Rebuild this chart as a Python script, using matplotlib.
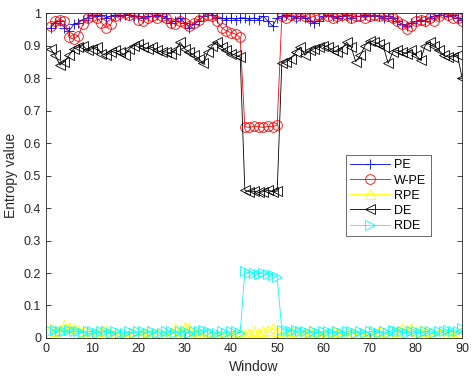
import matplotlib
matplotlib.use('Agg')
import matplotlib.pyplot as plt

plt.rcParams.update({"font.family": ["Liberation Sans", "DejaVu Sans"], "font.size": 9})

window = list(range(1, 91))

pe = [0.955, 0.97, 0.975, 0.955, 0.945, 0.965, 0.97, 0.98, 0.985, 0.995,
      0.99, 0.995, 0.985, 0.99, 0.995, 0.99, 0.995, 0.995, 0.99, 0.99,
      0.985, 0.99, 0.99, 0.995, 0.99, 0.985, 0.97, 0.975, 0.985, 0.97,
      0.955, 0.965, 0.975, 0.99, 1.0, 0.995, 0.985, 0.985, 0.98, 0.985,
      0.98, 0.985, 0.985, 0.98, 0.985, 0.98, 0.99, 0.975, 0.96, 0.985,
      0.99, 0.995, 0.99, 0.985, 0.99, 0.985, 0.975, 0.97, 0.975, 0.99,
      0.995, 0.99, 0.985, 0.99, 0.995, 0.985, 0.99, 0.99, 0.995, 0.99,
      0.995, 0.99, 0.985, 0.99, 0.985, 0.975, 0.965, 0.96, 0.97, 0.975,
      0.98, 0.975, 0.985, 0.99, 0.995, 1.0, 0.99, 0.995, 0.985, 0.98]

wpe = [0.96, 0.975, 0.98, 0.975, 0.925, 0.92, 0.93, 0.965, 0.985, 0.99,
       0.985, 0.97, 0.955, 0.965, 0.99, 1.0, 1.0, 0.995, 1.0, 0.98,
       0.975, 0.985, 0.99, 0.985, 0.99, 0.985, 0.97, 0.965, 0.975, 0.97,
       0.96, 0.97, 0.98, 0.99, 0.995, 0.99, 0.975, 0.955, 0.945, 0.94,
       0.935, 0.925, 0.65, 0.648, 0.652, 0.65, 0.648, 0.651, 0.65, 0.655,
       0.99, 0.985, 0.995, 0.99, 1.0, 0.99, 0.985, 0.99, 0.995, 1.0,
       0.99, 0.985, 0.99, 0.995, 0.995, 0.985, 0.99, 0.99, 0.985, 0.99,
       0.995, 0.99, 0.995, 0.99, 0.985, 0.975, 0.965, 0.95, 0.96, 0.975,
       0.98, 0.975, 0.985, 0.975, 0.99, 1.0, 0.995, 0.985, 0.985, 0.975]

rpe = [0.03, 0.02, 0.025, 0.04, 0.035, 0.03, 0.025, 0.02, 0.015, 0.01,
       0.015, 0.02, 0.025, 0.015, 0.01, 0.01, 0.005, 0.01, 0.015, 0.01,
       0.015, 0.02, 0.01, 0.015, 0.01, 0.005, 0.015, 0.03, 0.02, 0.035,
       0.03, 0.02, 0.015, 0.005, 0.003, 0.005, 0.01, 0.005, 0.008, 0.01,
       0.015, 0.02, 0.01, 0.015, 0.02, 0.015, 0.02, 0.025, 0.03, 0.02,
       0.005, 0.01, 0.02, 0.015, 0.01, 0.015, 0.02, 0.015, 0.01, 0.01,
       0.015, 0.02, 0.015, 0.01, 0.01, 0.015, 0.01, 0.015, 0.01, 0.015,
       0.01, 0.02, 0.015, 0.01, 0.015, 0.02, 0.03, 0.025, 0.03, 0.02,
       0.025, 0.02, 0.015, 0.01, 0.015, 0.01, 0.015, 0.01, 0.015, 0.015]

de = [0.89, 0.87, 0.84, 0.85, 0.87, 0.89, 0.895, 0.90, 0.885, 0.89,
      0.895, 0.875, 0.87, 0.88, 0.885, 0.88, 0.87, 0.89, 0.90, 0.905,
      0.895, 0.89, 0.895, 0.885, 0.88, 0.88, 0.875, 0.885, 0.91, 0.89,
      0.88, 0.87, 0.86, 0.845, 0.88, 0.90, 0.91, 0.895, 0.885, 0.875,
      0.87, 0.865, 0.455, 0.45, 0.452, 0.448, 0.45, 0.455, 0.45, 0.452,
      0.845, 0.85, 0.86, 0.88, 0.895, 0.87, 0.885, 0.89, 0.895, 0.90,
      0.895, 0.885, 0.88, 0.89, 0.91, 0.895, 0.85, 0.87, 0.90, 0.915,
      0.91, 0.905, 0.895, 0.845, 0.88, 0.885, 0.88, 0.875, 0.885, 0.87,
      0.855, 0.90, 0.91, 0.90, 0.885, 0.87, 0.865, 0.865, 0.87, 0.80]

rde = [0.02, 0.025, 0.02, 0.02, 0.025, 0.02, 0.02, 0.015, 0.02, 0.02,
       0.015, 0.02, 0.02, 0.015, 0.02, 0.015, 0.015, 0.02, 0.015, 0.02,
       0.02, 0.015, 0.02, 0.015, 0.015, 0.02, 0.02, 0.015, 0.02, 0.02,
       0.015, 0.02, 0.02, 0.025, 0.02, 0.015, 0.015, 0.02, 0.015, 0.02,
       0.02, 0.015, 0.205, 0.2, 0.2, 0.198, 0.2, 0.198, 0.195, 0.188,
       0.025, 0.025, 0.02, 0.025, 0.02, 0.02, 0.015, 0.02, 0.015, 0.02,
       0.02, 0.015, 0.02, 0.015, 0.02, 0.02, 0.015, 0.02, 0.015, 0.02,
       0.02, 0.015, 0.02, 0.015, 0.025, 0.02, 0.02, 0.015, 0.02, 0.02,
       0.015, 0.02, 0.02, 0.015, 0.02, 0.02, 0.025, 0.02, 0.02, 0.03]

series = [
    ("PE",   pe,  "#0000ff", "+", dict()),
    ("W-PE", wpe, "#ff0000", "o", dict(markerfacecolor="none")),
    ("RPE",  rpe, "#ffff00", "^", dict(markerfacecolor="none")),
    ("DE",   de,  "#000000", "<", dict(markerfacecolor="none")),
    ("RDE",  rde, "#00ffff", ">", dict(markerfacecolor="none")),
]

fig = plt.figure(figsize=(4.74, 3.83), dpi=100)
ax = fig.add_axes([0.097, 0.1175, 0.878, 0.8485])

for name, vals, col, mk, kw in series:
    ax.plot(window, vals, color=col, marker=mk, markersize=7, linewidth=0.6,
            markeredgewidth=0.6, label=name, **kw)

ax.set_xlim(0, 90)
ax.set_ylim(0, 1)
ax.set_xticks(range(0, 91, 10))
yt = [i / 10 for i in range(11)]
ax.set_yticks(yt)
ax.set_yticklabels(["0"] + [f"{v:.1f}" for v in yt[1:-1]] + ["1"])
ax.tick_params(direction="in", top=True, right=True, length=3.5, width=0.6,
               colors="#262626", labelsize=9)
for s in ax.spines.values():
    s.set_color("#262626"); s.set_linewidth(0.6)

ax.set_xlabel("Window", fontsize=10, color="#262626")
ax.set_ylabel("Entropy value", fontsize=10, color="#262626")

leg = ax.legend(loc="upper left", bbox_to_anchor=(0.721, 0.563), fontsize=9,
                frameon=True, fancybox=False, edgecolor="#262626",
                handlelength=3.2, borderpad=0.35, labelspacing=0.25,
                handletextpad=0.3, borderaxespad=0)
leg.get_frame().set_linewidth(0.6)

fig.savefig("out.png", dpi=100)
